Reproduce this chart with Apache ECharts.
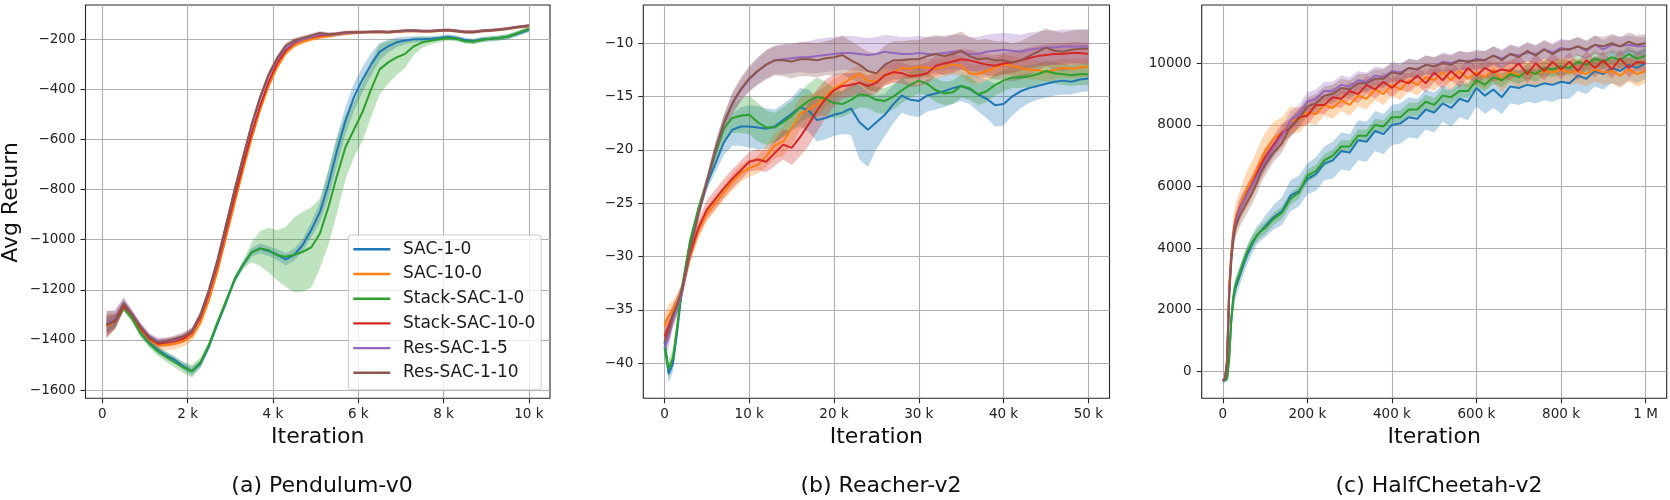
<!DOCTYPE html>
<html><head><meta charset="utf-8">
<script src="https://cdn.jsdelivr.net/npm/echarts@6/dist/echarts.min.js"></script>
<style>html,body{margin:0;padding:0;background:#fff}#c{width:1670px;height:500px}</style>
</head><body><div id="c"></div>
<script>
const NAMES = ['SAC-1-0','SAC-10-0','Stack-SAC-1-0','Stack-SAC-10-0','Res-SAC-1-5','Res-SAC-1-10'];
const COLORS = ['#1f77b4','#ff7f0e','#2ca02c','#d62728','#9467bd','#8c564b'];

// ---------- (a) Pendulum-v0 ----------
const xA = [100,300,500,700,900,1100,1300,1500,1700,1900,2100,2300,2500,2700,2900,3100,3300,3500,3700,3900,4100,4300,4500,4700,4900,5100,5300,5500,5700,5900,6100,6300,6500,6700,6900,7100,7300,7500,7700,7900,8100,8300,8500,8700,8900,9100,9300,9500,9700,9900,10000];
const aSAC1 = [-1340,-1325,-1270,-1310,-1370,-1410,-1440,-1462,-1480,-1505,-1525,-1495,-1425,-1335,-1250,-1160,-1100,-1050,-1035,-1045,-1060,-1078,-1060,-1020,-960,-890,-780,-645,-525,-430,-360,-300,-250,-228,-212,-205,-200,-200,-198,-195,-190,-195,-203,-208,-200,-198,-195,-190,-180,-168,-162];
const aSAC1Sd = [30,25,15,15,15,15,15,15,15,15,18,15,15,15,15,15,15,18,20,20,22,25,25,25,30,40,55,60,55,55,50,45,35,25,20,15,12,12,10,10,10,10,10,10,10,10,10,10,10,10,10];
const aSAC10 = [-1345,-1325,-1265,-1305,-1360,-1400,-1420,-1420,-1415,-1405,-1385,-1330,-1240,-1125,-990,-855,-720,-595,-480,-385,-310,-255,-225,-210,-200,-192,-188,-182,-178,-175,-172,-172,-171,-172,-170,-168,-167,-168,-168,-166,-164,-167,-171,-171,-167,-165,-162,-158,-153,-149,-147];
const aSAC10Sd = [45,30,18,14,14,16,20,22,22,22,20,18,16,16,16,16,16,15,15,14,12,12,10,10,9,8,8,7,7,7,6,6,6,6,6,6,6,6,6,6,6,6,6,6,6,6,6,6,6,6,6];
const aStack1 = [-1340,-1325,-1270,-1315,-1375,-1415,-1445,-1468,-1490,-1510,-1525,-1490,-1420,-1330,-1245,-1160,-1100,-1050,-1035,-1042,-1062,-1068,-1060,-1048,-1030,-975,-870,-745,-630,-560,-490,-400,-320,-292,-272,-258,-228,-212,-206,-200,-195,-198,-208,-210,-203,-198,-195,-190,-178,-165,-158];
const aStack1Sd = [30,25,15,15,15,15,18,20,20,22,25,20,15,15,15,15,15,40,70,90,100,120,150,160,160,140,150,150,130,110,115,110,100,85,70,55,35,22,15,12,10,10,10,10,10,10,10,10,10,10,10];
const aStack10 = [-1340,-1325,-1265,-1300,-1355,-1395,-1415,-1410,-1405,-1395,-1370,-1310,-1215,-1100,-965,-830,-700,-575,-465,-370,-295,-245,-215,-200,-192,-185,-183,-178,-175,-172,-171,-171,-170,-171,-169,-167,-166,-167,-167,-165,-163,-166,-170,-170,-166,-164,-161,-157,-152,-148,-146];
const aStack10Sd = [45,30,18,14,14,14,16,16,16,16,16,16,15,15,15,15,15,14,14,13,12,11,10,9,8,8,7,7,7,6,6,6,6,6,6,6,6,6,6,6,6,6,6,6,6,6,6,6,6,6,6];
const aRes5 = [-1335,-1315,-1250,-1295,-1345,-1385,-1405,-1405,-1400,-1385,-1365,-1300,-1205,-1085,-945,-805,-670,-545,-435,-345,-280,-235,-210,-200,-190,-180,-182,-180,-175,-173,-172,-171,-170,-171,-169,-166,-165,-167,-167,-165,-163,-166,-170,-171,-166,-164,-161,-157,-152,-148,-146];
const aRes5Sd = [50,35,20,14,14,14,14,14,14,14,15,15,15,15,15,15,15,15,14,14,14,12,12,10,10,9,8,8,7,7,6,6,6,6,6,6,6,6,6,6,6,6,6,6,6,6,6,6,6,6,6];
const aRes10 = [-1340,-1320,-1255,-1300,-1350,-1390,-1410,-1405,-1395,-1385,-1365,-1300,-1200,-1080,-940,-800,-670,-540,-430,-340,-275,-225,-205,-195,-185,-175,-180,-178,-172,-172,-172,-170,-170,-172,-168,-165,-165,-168,-168,-165,-163,-168,-172,-172,-167,-165,-162,-158,-152,-148,-145];
const aRes10Sd = [55,35,22,15,14,14,14,14,14,15,15,15,15,15,15,15,15,15,14,14,13,12,11,10,9,8,8,7,7,7,6,6,6,6,6,6,6,6,6,6,6,6,6,6,6,6,6,6,6,6,6];
const xTicksA = [0,2000,4000,6000,8000,10000];
const yTicksA = [-1600,-1400,-1200,-1000,-800,-600,-400,-200];

// ---------- (b) Reacher-v2 ----------
const xB = [0,500,1000,1500,2000,3000,4000,5000,6000,7000,8000,9000,10000,11000,12000,13000,14000,15000,16000,17000,18000,19000,20000,21000,22000,23000,24000,25000,26000,27000,28000,29000,30000,31000,32000,33000,34000,35000,36000,37000,38000,39000,40000,41000,42000,43000,44000,45000,46000,47000,48000,49000,50000];
const bSAC1 = [-38,-41,-40,-37,-33.5,-28.8,-25.7,-23.2,-21.3,-19.3,-18.1,-17.8,-17.8,-17.9,-18.0,-17.8,-17.2,-16.6,-16.0,-16.3,-17.2,-17.0,-16.7,-16.5,-16.1,-17.4,-18.1,-17.4,-16.7,-15.7,-14.9,-15.3,-15.4,-14.9,-14.7,-14.5,-14.2,-14.0,-14.3,-14.8,-15.2,-15.8,-15.7,-15.0,-14.5,-14.2,-14.0,-13.8,-13.6,-13.5,-13.6,-13.4,-13.3];
const bSAC1Sd = [1.0,0.8,0.8,0.7,0.6,0.5,0.5,0.6,0.8,1.2,1.5,1.8,2.0,2.0,1.9,1.6,1.5,1.5,1.8,2.0,2.0,2.0,2.0,2.0,2.5,3.5,3.5,2.5,2.0,1.8,1.6,1.5,1.5,1.5,1.5,1.5,1.5,1.4,1.4,1.6,1.8,2.0,2.0,1.8,1.6,1.4,1.3,1.3,1.3,1.3,1.2,1.2,1.2];
const bSAC10 = [-36.5,-35.5,-35.0,-34.3,-33.3,-30.0,-27.6,-26.0,-25.0,-24.0,-23.0,-22.2,-21.7,-21.4,-20.6,-19.6,-19.2,-18.0,-16.6,-16.2,-15.7,-15.0,-14.2,-13.8,-13.3,-12.9,-13.5,-13.6,-13.0,-12.8,-12.3,-12.4,-12.2,-12.3,-12.4,-12.2,-12.0,-12.1,-12.8,-12.9,-12.6,-12.3,-12.0,-12.1,-12.3,-12.5,-12.5,-12.7,-12.5,-12.3,-12.4,-12.3,-12.2];
const bSAC10Sd = [1.2,1.0,0.9,0.8,0.7,0.7,0.7,0.7,0.7,0.7,0.8,0.8,0.8,0.8,1.0,1.2,1.4,1.5,1.5,1.4,1.2,1.0,0.9,0.9,0.9,0.9,0.9,0.9,0.9,0.9,0.9,0.9,0.9,0.9,0.9,0.9,0.9,0.9,0.9,0.9,0.9,0.9,0.9,0.9,0.9,0.9,0.9,0.9,0.9,0.9,0.9,0.9,0.9];
const bStack1 = [-38.5,-40.5,-39.5,-36.5,-33.2,-28.6,-25.5,-23.0,-20.3,-18.0,-17.0,-16.8,-16.7,-17.4,-17.9,-17.9,-17.4,-16.8,-16.0,-15.4,-15.0,-15.2,-15.6,-15.7,-15.3,-14.8,-14.9,-15.3,-15.4,-15.0,-14.4,-13.9,-13.5,-13.8,-14.4,-14.7,-14.6,-14.0,-14.2,-14.8,-14.5,-13.9,-13.5,-13.2,-13.2,-13.1,-12.9,-12.6,-12.8,-12.9,-13.0,-12.9,-12.9];
const bStack1Sd = [1.0,0.8,0.8,0.7,0.6,0.5,0.5,0.6,0.8,1.2,1.4,1.6,1.8,1.8,1.6,1.4,1.4,1.4,1.4,1.6,1.8,1.6,1.4,1.2,1.2,1.2,1.2,1.2,1.2,1.2,1.2,1.2,1.2,1.1,1.1,1.1,1.1,1.1,1.1,1.0,1.0,1.0,1.0,1.0,1.0,1.0,1.0,1.0,1.0,1.0,1.0,1.0,1.0];
const bStack10 = [-37.5,-36.5,-35.5,-34.5,-33.5,-29.8,-27.3,-25.6,-24.6,-23.6,-22.7,-21.9,-21.1,-20.9,-21.1,-20.3,-19.5,-19.8,-18.8,-17.6,-16.3,-15.2,-14.4,-14.0,-13.9,-13.7,-14.0,-13.7,-13.0,-12.7,-12.8,-13.1,-13.0,-12.8,-12.1,-11.9,-11.7,-11.5,-11.6,-11.8,-12.0,-12.1,-11.9,-11.8,-11.6,-11.4,-11.2,-11.1,-11.0,-11.0,-10.9,-10.9,-11.0];
const bStack10Sd = [1.5,1.2,1.0,0.8,0.7,0.7,0.8,0.9,0.9,0.9,0.9,0.9,0.9,1.0,1.0,1.2,1.4,1.6,1.8,2.0,2.0,1.8,1.5,1.2,1.1,1.0,1.0,1.0,1.0,1.0,1.0,1.0,1.0,1.0,1.0,1.0,1.0,1.0,1.0,1.0,1.0,1.0,1.0,1.0,1.0,1.0,1.0,1.0,1.0,1.0,1.0,1.0,1.0];
const bRes5 = [-38.5,-37.5,-35.8,-34.8,-33.5,-29.5,-26.0,-23.0,-20.0,-17.6,-15.7,-14.4,-13.4,-12.6,-12.0,-11.6,-11.5,-11.4,-11.3,-11.3,-11.2,-11.1,-11.0,-10.9,-10.9,-11.0,-11.1,-11.0,-10.8,-10.9,-11.0,-11.0,-10.9,-11.0,-11.0,-10.9,-10.8,-10.8,-11.0,-11.0,-10.8,-10.7,-10.6,-10.7,-10.8,-10.6,-10.5,-10.4,-10.4,-10.3,-10.3,-10.3,-10.3];
const bRes5Sd = [1.0,1.0,0.9,0.8,0.7,0.6,0.6,0.6,0.7,0.8,1.0,1.0,1.1,1.2,1.3,1.3,1.4,1.4,1.4,1.5,1.6,1.6,1.6,1.6,1.6,1.6,1.6,1.6,1.6,1.6,1.6,1.6,1.6,1.6,1.6,1.6,1.6,1.6,1.6,1.6,1.6,1.6,1.6,1.6,1.6,1.6,1.6,1.6,1.6,1.6,1.6,1.6,1.6];
const bRes10 = [-38.0,-37.0,-35.5,-34.5,-33.3,-29.4,-26.0,-23.0,-20.0,-17.5,-15.6,-14.3,-13.3,-12.6,-12.0,-11.6,-11.6,-11.7,-11.5,-11.5,-11.6,-11.4,-11.3,-11.1,-11.6,-12.0,-12.6,-12.8,-12.0,-11.6,-11.6,-11.5,-11.5,-11.2,-11.0,-11.2,-11.0,-10.7,-11.2,-11.5,-11.4,-11.6,-11.6,-11.8,-11.6,-11.2,-10.8,-10.4,-10.7,-10.8,-10.6,-10.5,-10.5];
const bRes10Sd = [1.0,1.0,0.9,0.8,0.7,0.6,0.6,0.6,0.7,0.8,1.0,1.1,1.2,1.3,1.4,1.4,1.5,1.6,1.6,1.6,1.6,1.6,1.7,1.8,1.8,1.7,1.8,1.8,1.8,1.8,1.8,1.8,1.8,1.8,1.8,1.8,1.8,1.8,1.8,1.8,1.8,1.8,1.8,1.8,1.8,1.8,1.8,1.8,1.8,1.8,1.8,1.8,1.8];
const xTicksB = [0,10000,20000,30000,40000,50000];
const yTicksB = [-40,-35,-30,-25,-20,-15,-10];

// ---------- (c) HalfCheetah-v2 ----------
const xC = [0,5000,10000,15000,20000,25000,30000,40000,50000,60000,70000,80000,90000,100000,120000,140000,160000,180000,200000,220000,240000,260000,280000,300000,320000,340000,360000,380000,400000,420000,440000,460000,480000,500000,520000,540000,560000,580000,600000,620000,640000,660000,680000,700000,720000,740000,760000,780000,800000,820000,840000,860000,880000,900000,920000,940000,960000,980000,1000000];
const cSAC1 = [-300,-290,-220,500,1700,2350,2700,3100,3500,3850,4150,4400,4550,4700,5000,5200,5700,5850,6250,6400,6750,6850,7150,7100,7500,7450,7800,7700,8000,8050,8250,8200,8500,8400,8700,8550,8850,8750,9200,8950,9150,8900,9250,9200,9300,9250,9350,9300,9400,9350,9600,9500,9750,9650,9850,9750,9950,9850,10000];
const cSAC1Sd = [60,60,80,300,400,400,350,300,300,300,300,300,300,350,400,450,500,500,500,550,550,600,600,600,650,650,650,650,650,650,650,650,650,650,600,600,600,600,600,600,600,550,550,550,550,550,550,550,550,500,500,500,500,500,500,500,500,500,500];
const cSAC10 = [-300,-250,400,2800,3850,4550,4950,5350,5700,6000,6250,6550,6850,7150,7550,7750,8150,8150,8400,8350,8650,8550,8800,8650,8950,8850,9150,9000,9300,9150,9450,9300,9550,9450,9700,9450,9750,9500,9700,9550,9800,9450,9750,9600,9700,9650,9750,9700,9800,9700,9750,9650,9800,9700,9750,9600,9800,9650,9750];
const cSAC10Sd = [60,60,150,450,500,500,500,500,550,600,600,600,600,600,550,500,450,400,350,350,350,350,350,350,350,350,350,350,350,350,350,350,350,350,350,350,350,350,400,400,400,400,400,400,400,400,400,400,400,400,400,400,400,400,400,400,400,400,400];
const cStack1 = [-300,-290,-250,350,1650,2450,2800,3200,3600,3950,4200,4400,4550,4650,4950,5150,5600,5800,6350,6500,6850,7000,7300,7300,7650,7650,8000,7950,8250,8250,8500,8500,8750,8650,8950,8900,9100,9100,9450,9300,9550,9450,9650,9550,9750,9650,9850,9800,9900,9850,10050,9950,10150,10050,10200,10100,10300,10150,10250];
const cStack1Sd = [60,60,80,250,300,250,200,200,200,200,200,200,200,200,200,200,200,200,200,200,200,200,200,200,200,200,200,200,200,220,220,220,220,220,220,220,220,220,220,220,220,220,220,220,250,250,250,250,250,250,250,250,250,250,250,250,250,250,250];
const cStack10 = [-300,-250,300,2600,3750,4450,4850,5300,5550,5850,6100,6400,6700,6950,7350,7750,7900,8250,8300,8650,8650,8900,8850,9100,9000,9300,9150,9400,9200,9450,9350,9600,9350,9700,9450,9750,9500,9850,9600,9850,9700,9800,9750,10000,9650,10000,9750,10050,9800,10050,9750,10100,9850,10100,9800,10150,9850,10050,10000];
const cStack10Sd = [60,60,150,400,400,350,300,300,300,300,300,300,300,300,300,300,300,300,300,300,300,300,300,300,300,300,300,300,300,300,300,300,300,300,300,300,300,300,300,300,300,300,300,300,300,300,300,300,300,300,300,300,300,300,300,300,300,300,300];
const cRes5 = [-300,-250,300,2500,3700,4400,4800,5250,5550,5800,6050,6300,6550,6800,7250,7650,8150,8350,8750,8850,9100,9100,9300,9250,9450,9400,9600,9550,9750,9700,9850,9800,9950,9900,10050,10000,10100,10050,10150,10100,10250,10150,10300,10250,10350,10300,10450,10350,10500,10450,10550,10400,10600,10450,10600,10550,10600,10550,10550];
const cRes5Sd = [60,60,150,400,400,350,300,300,300,300,300,300,300,300,300,300,300,300,300,300,300,300,300,300,300,300,300,300,300,300,300,300,300,300,300,300,300,300,300,300,300,300,300,300,300,300,300,300,300,300,300,300,300,300,300,300,300,300,300];
const cRes10 = [-300,-250,250,2400,3600,4300,4700,5050,5300,5550,5800,6100,6450,6700,7100,7400,7950,8200,8600,8700,8950,9000,9200,9150,9350,9350,9500,9500,9700,9650,9850,9800,9950,9900,10000,9950,10100,10050,10100,10100,10250,10100,10300,10200,10400,10250,10450,10300,10450,10450,10550,10450,10600,10550,10650,10550,10700,10600,10650];
const cRes10Sd = [60,60,150,400,400,350,350,350,350,350,350,350,350,350,300,300,300,300,300,300,300,300,300,300,300,300,300,300,300,300,300,300,300,300,300,300,300,300,300,300,300,300,300,300,300,300,300,300,300,300,300,300,300,300,300,300,300,300,300];
const xTicksC = [0,200000,400000,600000,800000,1000000];
const yTicksC = [0,2000,4000,6000,8000,10000];

const FONT = '"DejaVu Sans", sans-serif';
const panels = [
  {x:xA, means:[aSAC1,aSAC10,aStack1,aStack10,aRes5,aRes10], sds:[aSAC1Sd,aSAC10Sd,aStack1Sd,aStack10Sd,aRes5Sd,aRes10Sd],
   xMin:-395, xMax:10495, yMin:-1633, yMax:-63, xTicks:xTicksA, yTicks:yTicksA, left:85.5, width:464.5},
  {x:xB, means:[bSAC1,bSAC10,bStack1,bStack10,bRes5,bRes10], sds:[bSAC1Sd,bSAC10Sd,bStack1Sd,bStack10Sd,bRes5Sd,bRes10Sd],
   xMin:-2500, xMax:52500, yMin:-43.28, yMax:-6.41, xTicks:xTicksB, yTicks:yTicksB, left:643.3, width:466.2},
  {x:xC, means:[cSAC1,cSAC10,cStack1,cStack10,cRes5,cRes10], sds:[cSAC1Sd,cSAC10Sd,cStack1Sd,cStack10Sd,cRes5Sd,cRes10Sd],
   xMin:-50000, xMax:1050000, yMin:-877, yMax:11893, xTicks:xTicksC, yTicks:yTicksC, left:1201.7, width:465}
];
const TOP = 5, HEIGHT = 393.3;

function fmtX(v){ if (v === 0) return '0'; if (v >= 1e6) return (v/1e6) + ' M'; return (v/1000) + ' k'; }
function fmtY(v){ return v < 0 ? '\u2212' + Math.abs(v) : String(v); }
function makeBand(band, color){
  return function(params, api){
    if (params.dataIndex !== 0) return null;
    const up = band.map(d => api.coord([d[0], d[2]]));
    const lo = band.map(d => api.coord([d[0], d[1]])).reverse();
    return {type:'polygon', silent:true, shape:{points: up.concat(lo)}, style:{fill: color, opacity: 0.3}};
  };
}

const grids = [], xAxes = [], yAxes = [], series = [];
panels.forEach((p, pi) => {
  grids.push({left:p.left, top:TOP, width:p.width, height:HEIGHT, show:true, borderColor:'#262626', borderWidth:1.1, backgroundColor:'transparent'});
  xAxes.push({type:'value', gridIndex:pi, min:p.xMin, max:p.xMax,
    axisLine:{show:false, onZero:false},
    axisTick:{show:true, inside:false, length:5, lineStyle:{color:'#262626', width:1.1}, customValues:p.xTicks},
    axisLabel:{customValues:p.xTicks, formatter:fmtX, fontSize:13.5, fontFamily:FONT, color:'#222', margin:9},
    splitLine:{show:true, lineStyle:{color:'#b0b0b0', width:1.1}}});
  yAxes.push({type:'value', gridIndex:pi, min:p.yMin, max:p.yMax,
    axisLine:{show:false, onZero:false},
    axisTick:{show:true, inside:false, length:5, lineStyle:{color:'#262626', width:1.1}, customValues:p.yTicks},
    axisLabel:{customValues:p.yTicks, formatter:fmtY, fontSize:13.5, fontFamily:FONT, color:'#222', margin:10},
    splitLine:{show:true, lineStyle:{color:'#b0b0b0', width:1.1}}});
  NAMES.forEach((name, si) => {
    const m = p.means[si], sd = p.sds[si];
    const band = p.x.map((xv, j) => [xv, m[j] - sd[j], m[j] + sd[j]]);
    series.push({type:'custom', name: name + ' band ' + pi, xAxisIndex:pi, yAxisIndex:pi, silent:true,
      data: band, encode:{x:0, y:[1,2]}, renderItem: makeBand(band, COLORS[si]), z:2});
    series.push({type:'line', name: name, xAxisIndex:pi, yAxisIndex:pi, silent:true, showSymbol:false, symbol:'none',
      data: p.x.map((xv, j) => [xv, m[j]]), lineStyle:{width:2, color:COLORS[si]}, itemStyle:{color:COLORS[si]}, z:2});
  });
});

const graphics = [
  {type:'text', x:11, y:202.5, rotation:Math.PI/2, style:{text:'Avg Return', font:'22px ' + FONT, fill:'#111', align:'center', verticalAlign:'middle', textAlign:'center', textVerticalAlign:'middle'}},
];
const CAPTIONS = ['(a) Pendulum-v0','(b) Reacher-v2','(c) HalfCheetah-v2'];
const capX = [322, 881, 1439];
panels.forEach((p, pi) => {
  graphics.push({type:'text', x:p.left + p.width/2, y:437.3, style:{text:'Iteration', font:'22px ' + FONT, fill:'#111', align:'center', verticalAlign:'middle', textAlign:'center', textVerticalAlign:'middle'}});
  graphics.push({type:'text', x:capX[pi], y:486.7, style:{text:CAPTIONS[pi], font:'22px ' + FONT, fill:'#111', align:'center', verticalAlign:'middle', textAlign:'center', textVerticalAlign:'middle'}});
});

const chart = echarts.init(document.getElementById('c'), null, {renderer:'canvas'});
chart.setOption({
  animation:false,
  backgroundColor:'#ffffff',
  grid: grids, xAxis: xAxes, yAxis: yAxes, series: series,
  legend: {data: NAMES, left:348.3, top:235, orient:'vertical', icon:'rect', itemWidth:37, itemHeight:2.4, itemGap:4.7,
    padding:[4.3,6,7,5], backgroundColor:'rgba(255,255,255,0.8)', borderColor:'#cccccc', borderWidth:1, borderRadius:3,
    selectedMode:false, textStyle:{fontFamily:FONT, fontSize:17, color:'#1a1a1a', lineHeight:20, padding:[0,0,0,7.7]}},
  graphic: graphics
});
</script></body></html>
